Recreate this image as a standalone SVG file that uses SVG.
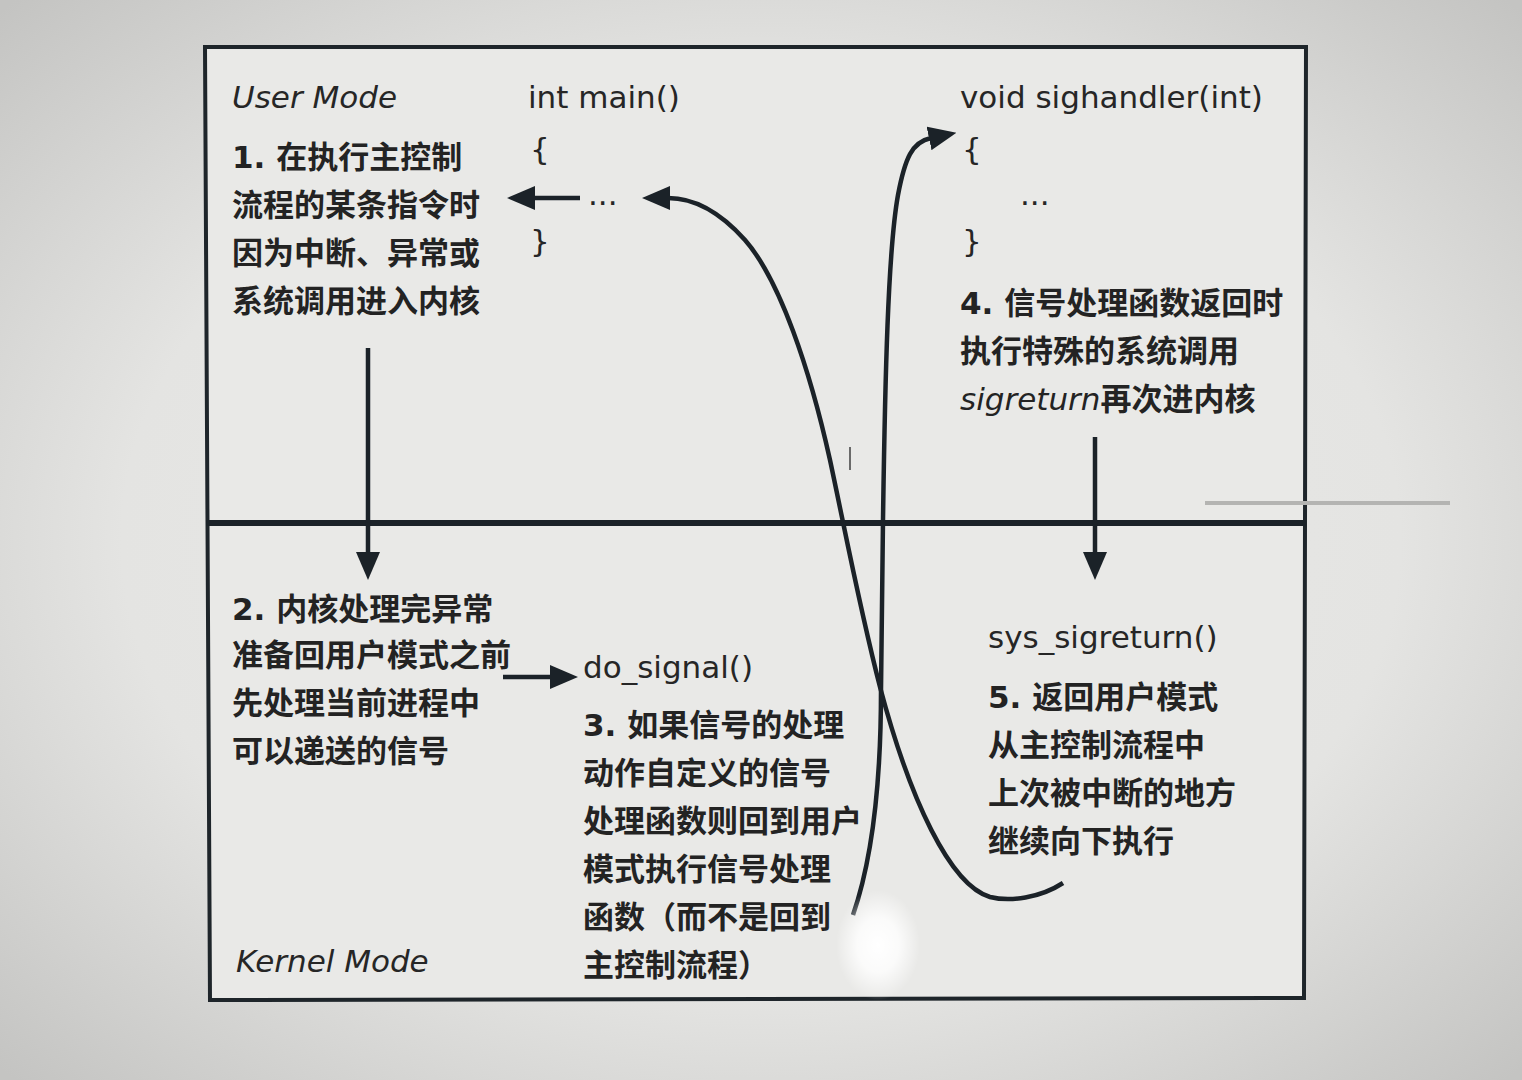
<svg xmlns="http://www.w3.org/2000/svg" width="1522" height="1080" viewBox="0 0 1522 1080">
  <defs>
    <radialGradient id="bg" cx="50%" cy="50%" r="70%">
      <stop offset="0" stop-color="#ebebe9"/>
      <stop offset="0.6" stop-color="#e4e4e2"/>
      <stop offset="1" stop-color="#c4c4c2"/>
    </radialGradient>
    <radialGradient id="glare" cx="50%" cy="50%" r="50%">
      <stop offset="0" stop-color="#ffffff" stop-opacity="1"/>
      <stop offset="0.5" stop-color="#ffffff" stop-opacity="0.8"/>
      <stop offset="1" stop-color="#ffffff" stop-opacity="0"/>
    </radialGradient>
    <marker id="ah" viewBox="0 0 28 24" refX="2" refY="12" markerWidth="28" markerHeight="24" markerUnits="userSpaceOnUse" orient="auto">
      <path d="M0,0 L28,12 L0,24 z" fill="#1b2228"/>
    </marker>
    <style>
      .ln { fill: none; stroke: #1b2228; stroke-width: 4.5; }
      .t { font-family: "DejaVu Sans", "Noto Sans CJK SC", sans-serif; font-size: 31px; fill: #262626; }
      .cjk { font-family: "DejaVu Sans", "Noto Sans CJK SC", sans-serif; font-size: 31px; font-weight: bold; fill: #232323; }
      .it { font-style: italic; }
    </style>
  </defs>

  <rect x="0" y="0" width="1522" height="1080" fill="url(#bg)"/>

  <!-- frame -->
  <g id="frame">
    <polygon points="205,47 1306,47 1304,998 210,1000" fill="#e9e9e7" stroke="#1e252a" stroke-width="4"/>
    <line x1="206" y1="523" x2="1306" y2="523" stroke="#1b2228" stroke-width="6"/>
    <line x1="1205" y1="503" x2="1450" y2="503" stroke="#b4b4b2" stroke-width="4"/>
    <line x1="850" y1="447" x2="850" y2="470" stroke="#6a6a6a" stroke-width="2"/>
  </g>

  <!-- user mode -->
  <g id="user-mode-label">
    <text class="t it" x="232" y="108">User Mode</text>
  </g>
  <g id="step1">
    <text class="cjk" x="232" y="168">1. 在执行主控制</text>
    <text class="cjk" x="232" y="216">流程的某条指令时</text>
    <text class="cjk" x="232" y="264">因为中断、异常或</text>
    <text class="cjk" x="232" y="312">系统调用进入内核</text>
  </g>
  <g id="main">
    <text class="t" x="528" y="108">int main()</text>
    <text class="t" x="530" y="160">{</text>
    <text class="t" x="588" y="205">...</text>
    <text class="t" x="530" y="252">}</text>
  </g>
  <g id="sighandler">
    <text class="t" x="960" y="108">void sighandler(int)</text>
    <text class="t" x="962" y="160">{</text>
    <text class="t" x="1020" y="205">...</text>
    <text class="t" x="962" y="252">}</text>
  </g>
  <g id="step4">
    <text class="cjk" x="960" y="314">4. 信号处理函数返回时</text>
    <text class="cjk" x="960" y="362">执行特殊的系统调用</text>
    <text class="cjk" x="960" y="410"><tspan class="it" font-weight="normal">sigreturn</tspan>再次进内核</text>
  </g>

  <!-- kernel mode -->
  <g id="step2">
    <text class="cjk" x="232" y="620">2. 内核处理完异常</text>
    <text class="cjk" x="232" y="666">准备回用户模式之前</text>
    <text class="cjk" x="232" y="714">先处理当前进程中</text>
    <text class="cjk" x="232" y="762">可以递送的信号</text>
  </g>
  <g id="do-signal">
    <text class="t" x="583" y="678">do_signal()</text>
    <text class="cjk" x="583" y="736">3. 如果信号的处理</text>
    <text class="cjk" x="583" y="784">动作自定义的信号</text>
    <text class="cjk" x="583" y="832">处理函数则回到用户</text>
    <text class="cjk" x="583" y="880">模式执行信号处理</text>
    <text class="cjk" x="583" y="928">函数（而不是回到</text>
    <text class="cjk" x="583" y="976">主控制流程）</text>
  </g>
  <g id="sys-sigreturn">
    <text class="t" x="988" y="648">sys_sigreturn()</text>
    <text class="cjk" x="988" y="708">5. 返回用户模式</text>
    <text class="cjk" x="988" y="756">从主控制流程中</text>
    <text class="cjk" x="988" y="804">上次被中断的地方</text>
    <text class="cjk" x="988" y="852">继续向下执行</text>
  </g>
  <g id="kernel-mode-label">
    <text class="t it" x="236" y="972">Kernel Mode</text>
  </g>

  <!-- connectors -->
  <g id="connectors">
    <path class="ln" d="M580,198 L533,198" marker-end="url(#ah)"/>
    <path class="ln" d="M368,348 L368,554" marker-end="url(#ah)"/>
    <path class="ln" d="M503,677 L552,677" marker-end="url(#ah)"/>
    <path class="ln" d="M1095,437 L1095,554" marker-end="url(#ah)"/>
    <path class="ln" d="M1063,883 C1040,898 1010,902 990,897 C950,885 910,800 880,687 C860,610 845,530 830,460 C810,370 780,280 745,240 C720,212 695,198 668,198" marker-end="url(#ah)"/>
    <path class="ln" d="M853,915 C872,860 881,780 881,690 L883,520 C885,380 888,250 898,195 C905,158 912,142 931,138" marker-end="url(#ah)"/>
  </g>

  <ellipse cx="878" cy="945" rx="42" ry="55" fill="url(#glare)"/>
</svg>
